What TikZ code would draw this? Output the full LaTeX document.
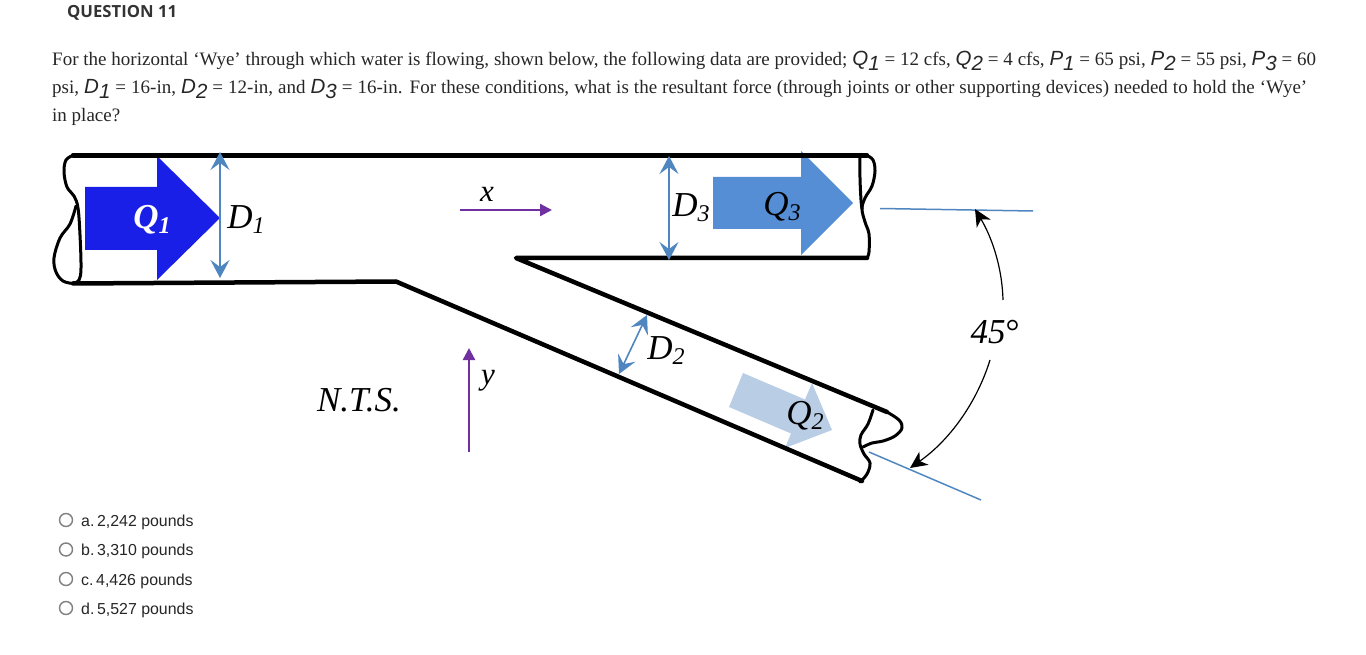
\documentclass[tikz,border=0pt]{standalone}
\usepackage{fontspec}
\setmainfont{Liberation Serif}
\newfontfamily\arialfont{Liberation Sans}
\newfontfamily\headfont{Open Sans}
\usetikzlibrary{arrows.meta}
\definecolor{pipeblue}{HTML}{4F86C0}
\definecolor{flowone}{HTML}{1A1FE8}
\definecolor{flowtwo}{HTML}{B9CDE5}
\definecolor{flowthree}{HTML}{558ED5}
\definecolor{axispurple}{HTML}{7030A0}
\newcommand{\varsub}[2]{{\arialfont\fontsize{20.5}{22}\selectfont\itshape #1\raisebox{-5pt}{#2}}}
\newcommand{\difflabel}[2]{\textit{#1}\raisebox{-5pt}{\fontsize{24}{26}\selectfont\textit{#2}}}
\tikzset{
    pipe/.style={black, line width=4.5pt, line join=round, line cap=round},
    breakline/.style={black, line width=3pt, line join=round, line cap=round},
    dimline/.style={pipeblue, line width=1.6pt, {Stealth[length=18pt,width=19pt,inset=7pt]}-{Stealth[length=18pt,width=19pt,inset=7pt]}},
    refline/.style={pipeblue, line width=1.5pt},
    axisline/.style={axispurple, line width=2.4pt, -{Triangle[length=12pt,width=12pt]}},
    anglearrow/.style={black, line width=1.2pt, -{Stealth[length=17pt,width=16pt,inset=5pt]}},
    figlabel/.style={inner sep=0pt, font=\fontsize{35}{38}\selectfont},
    textline/.style={inner sep=0pt, anchor=base west, font=\fontsize{19}{22}\selectfont, text=black!85},
    choice/.style={inner sep=0pt, anchor=base west, font=\arialfont\fontsize{15.9}{18}\selectfont, text=black!85},
    radio/.style={draw=black!50, line width=1.4pt}
}
\begin{document}
\begin{tikzpicture}[x=1pt, y=-1pt]
        \useasboundingbox (0,0) rectangle (1366,655);

        % Question text
        \node[inner sep=0pt, anchor=base west, font=\headfont\bfseries\fontsize{16.7}{18}\selectfont, text=black!80] (titulo) at (67,18) {QUESTION 11};
        \node[textline] (lineone) at (52,66) {\makebox[1264pt][s]{For the horizontal ‘Wye’ through which water is flowing, shown below, the following data are provided; \varsub{Q}{1} = 12 cfs, \varsub{Q}{2} = 4 cfs, \varsub{P}{1} = 65 psi, \varsub{P}{2} = 55 psi, \varsub{P}{3} = 60}};
        \node[textline] (linetwo) at (52,94) {\makebox[1255pt][s]{psi, \varsub{D}{1} = 16-in, \varsub{D}{2} = 12-in, and \varsub{D}{3} = 16-in.  For these conditions, what is the resultant force (through joints or other supporting devices) needed to hold the ‘Wye’}};
        \node[textline] (linethree) at (52,122) {in place?};

        % Flow arrows
        \fill[flowone] (85,187) -- (157,187) -- (157,156) -- (220,218) -- (157,280) -- (157,250) -- (85,250) -- cycle;
        \fill[flowthree] (713,177) -- (801,177) -- (801,151) -- (853,203) -- (801,255) -- (801,229) -- (713,229) -- cycle;
        \fill[flowtwo] (743,373) -- (805,399.5) -- (812,383) -- (832,430) -- (785,448) -- (791,433.5) -- (729,407) -- cycle;

        % Pipe walls
        \draw[pipe] (73,155.5) -- (867,155.5);
        \draw[pipe] (73,283.5) -- (396,281.5) -- (862,481);
        \draw[pipe] (887,412) -- (516,258) -- (867,258);

        % Broken ends
        \draw[breakline] plot[smooth, tension=0.6] coordinates {(73,155.5) (66,160) (64,172) (67,187) (74,196) (78,208) (80,235) (81,268) (79,280) (73,283.5)};
        \draw[breakline] plot[smooth, tension=0.6] coordinates {(76,206) (70,224) (60,238) (54,258) (56,272) (63,281) (73,283.5)};
        \draw[breakline] plot[smooth, tension=0.6] coordinates {(867,155.5) (873,160) (875,171) (872,186) (865,198) (862,209) (865,222) (869,234) (869,252) (867,258)};
        \draw[breakline] plot[smooth, tension=0.6] coordinates {(860,157) (860,178) (861,200) (862,209)};
        \draw[breakline] plot[smooth, tension=0.6] coordinates {(887,412) (899,420) (902,428) (895,436) (883,441) (872,443) (863,447)};
        \draw[breakline] plot[smooth, tension=0.6] coordinates {(873,410) (868,424) (861,435) (860,444) (864,454) (870,463) (867,474) (860,482)};

        % Diameters
        \draw[dimline] (220,152) -- (220,278);
        \draw[dimline] (669,156) -- (669,260);
        \draw[dimline] (647,315) -- (619,374);

        % Reference lines and angle
        \draw[refline] (880,208.5) -- (1033,211);
        \draw[refline] (869,452) -- (981,500);
        \draw[anglearrow] (1003,300) .. controls (1002,265) and (991,236) .. (975,209);
        \draw[anglearrow] (990,360) .. controls (977,402) and (950,440) .. (910,468);

        % Axes
        \draw[axisline] (460,210) -- (552,210);
        \draw[axisline] (469,452) -- (469,348);

        % Labels
        \node[figlabel, text=white, font=\bfseries\fontsize{35}{38}\selectfont] (labelqone) at (152,220) {\difflabel{Q}{1}};
        \node[figlabel] (labeldone) at (246,220) {\difflabel{D}{1}};
        \node[figlabel] (labeldthree) at (691,208) {\difflabel{D}{3}};
        \node[figlabel] (labelqthree) at (782,207) {\difflabel{Q}{3}};
        \node[figlabel] (labeldtwo) at (666,351) {\difflabel{D}{2}};
        \node[figlabel] (labelqtwo) at (805,416) {\difflabel{Q}{2}};
        \node[figlabel] (labelangle) at (995,332) {\textit{45}°};
        \node[figlabel, font=\fontsize{31}{34}\selectfont] (labelx) at (487,194) {\textit{x}};
        \node[figlabel, font=\fontsize{31}{34}\selectfont] (labely) at (488,381) {\textit{y}};
        \node[figlabel] (labelnts) at (359,400) {\textit{N.T.S.}};

        % Answer choices
        \draw[radio] (66,520) circle (6.5);
        \draw[radio] (66,549.5) circle (6.5);
        \draw[radio] (66,579) circle (6.5);
        \draw[radio] (66,608) circle (6.5);
        \node[choice] (choicea) at (81,526) {a.\,2,242 pounds};
        \node[choice] (choiceb) at (81,555.5) {b.\,3,310 pounds};
        \node[choice] (choicec) at (81,585) {c.\,4,426 pounds};
        \node[choice] (choiced) at (81,614) {d.\,5,527 pounds};
\end{tikzpicture}
\end{document}
